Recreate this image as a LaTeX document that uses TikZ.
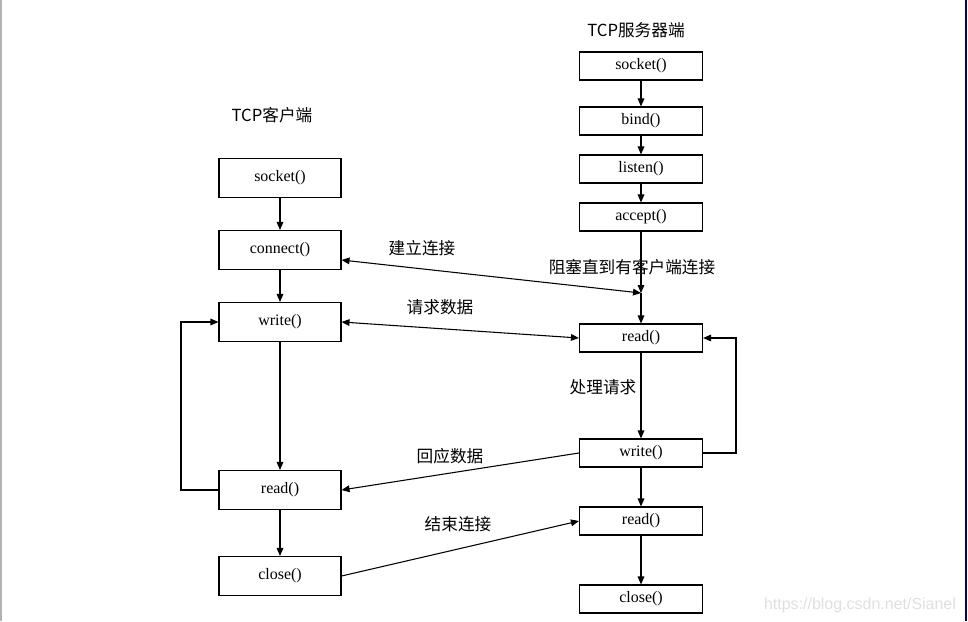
\documentclass[tikz,border=0pt]{standalone}
\usepackage{fontspec}
\setmainfont{Liberation Serif}
\newfontfamily\cjk{Noto Sans CJK SC}
\usetikzlibrary{arrows.meta}
\tikzset{
  >={Triangle[length=6pt,width=5pt]},
  cbox/.style={draw, thick, minimum width=3.22cm, minimum height=1.03cm, font=\fontsize{12}{14}\selectfont},
  sbox/.style={draw, thick, minimum width=3.25cm, minimum height=0.74cm, font=\fontsize{12}{14}\selectfont},
  line/.style={draw, thick, ->},
  lbl/.style={font=\cjk\fontsize{12.5}{14}\selectfont},
}
\begin{document}
\begin{tikzpicture}[x=0.0264cm, y=-0.0264cm]
\useasboundingbox (0,0) rectangle (968,621);
\draw[very thick, blue!40!black] (966,0) -- (966,621);
\draw[thick, gray!60] (1,0) -- (1,621);
% titles
\node[lbl] at (636,30) {TCP服务器端};
\node[lbl] at (272,115) {TCP客户端};
% client
\node[cbox] (csocket) at (280,178) {socket()};
\node[cbox] (cconnect) at (280,250) {connect()};
\node[cbox] (cwrite) at (280,322) {write()};
\node[cbox] (cread) at (280,490) {read()};
\node[cbox] (cclose) at (280,576) {close()};
% server
\node[sbox] (ssocket) at (641,66) {socket()};
\node[sbox] (sbind) at (641,121) {bind()};
\node[sbox] (slisten) at (641,169) {listen()};
\node[sbox] (saccept) at (641,217) {accept()};
\node[sbox] (sread) at (641,338) {read()};
\node[sbox] (swrite) at (641,453) {write()};
\node[sbox] (sreadb) at (641,521) {read()};
\node[sbox] (sclose) at (641,599) {close()};
\coordinate (block) at (641,293);
\coordinate (cloop) at (181,490);
\coordinate (sloop) at (736,453);
% vertical flow
\foreach \a/\b in {csocket/cconnect, cconnect/cwrite, cwrite/cread, cread/cclose,
  ssocket/sbind, sbind/slisten, slisten/saccept, saccept/block, block/sread,
  sread/swrite, swrite/sreadb, sreadb/sclose}
  \draw[line] (\a) -- (\b);
% loops
\draw[line] (cread.west) -- (cloop) |- (cwrite.west);
\draw[line] (swrite.east) -- (sloop) |- (sread.east);
% messages
\draw[thick, <->] (cconnect.east) ++(0,10) coordinate (cc) -- (block);
\draw[thick, <->] (cwrite.east) -- (sread.west);
\draw[line] (swrite.west) -- (cread.east);
\draw[line] (cclose.east) -- (sreadb.west);
% labels
\node[lbl] at (422,248) {建立连接};
\node[lbl] at (632,267) {阻塞直到有客户端连接};
\node[lbl] at (440,307) {请求数据};
\node[lbl] at (603,387) {处理请求};
\node[lbl] at (450,456) {回应数据};
\node[lbl] at (458,524) {结束连接};
\node[font=\fontspec{Liberation Sans}\fontsize{12}{14}\selectfont, text=gray!25] at (860,605) {https://blog.csdn.net/Sianel};
\end{tikzpicture}
\end{document}
